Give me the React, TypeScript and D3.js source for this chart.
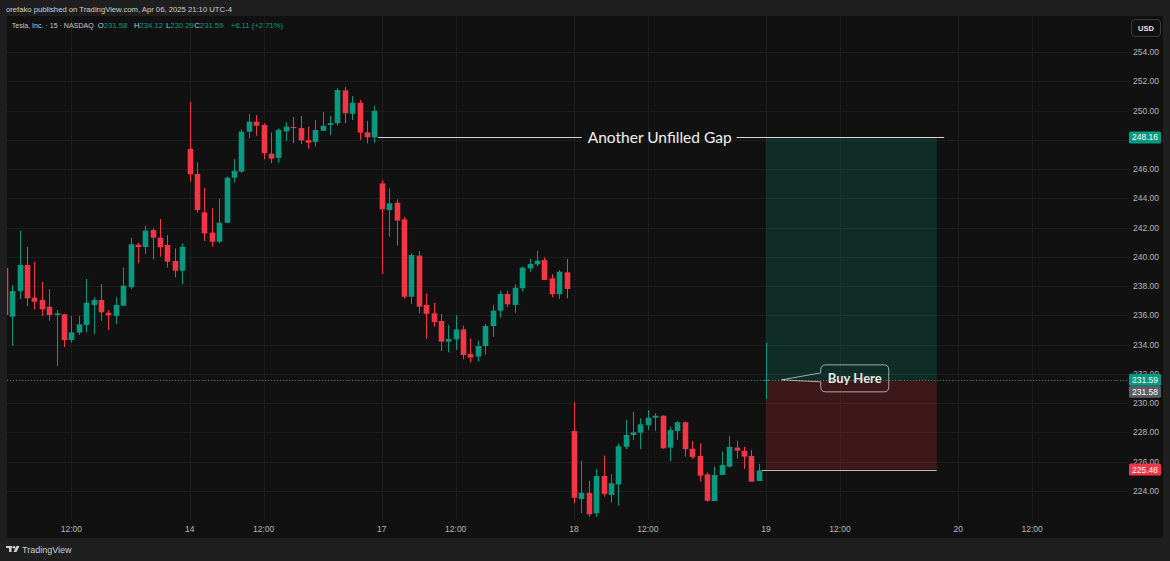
import React, { useLayoutEffect, useRef, useState } from 'react';
import * as d3 from 'd3';

// ---------- DATA ----------
// 15-minute bars; index 0 = 13 Mar 09:30, 26 bars per session
const START_INDEX = 1;
const opens = [
  239.24, 235.91, 237.66, 239.44, 237.21, 237.05, 236.59, 236.02, 236.07, 234.31,
  234.82, 235.34, 236.71, 237.05, 236.18, 235.96, 236.66, 237.92, 240.83, 240.67,
  241.83, 241.31, 240.81, 239.71, 239.05, 247.37, 245.66, 243.04, 241.65, 241.03,
  242.33, 245.41, 245.82, 248.55, 249.24, 249.01, 247.05, 246.76, 248.58, 248.87,
  248.80, 247.98, 247.85, 248.62, 249.01, 249.13, 251.38, 249.78, 250.53, 248.51,
  248.17, 245.02, 243.20, 243.70, 242.56, 237.27, 240.08, 236.71, 236.14, 235.61,
  234.20, 234.36, 235.04, 233.36, 233.18, 233.90, 235.27, 236.32, 237.46, 236.71,
  237.85, 239.21, 239.49, 239.78, 238.53, 237.44, 238.94, 228.09, 223.45, 223.87,
  222.47, 225.02, 223.72, 224.45, 227.01, 227.82, 227.98, 228.50, 229.00, 229.14,
  226.96, 228.10, 228.69, 226.87, 226.39, 225.13, 223.31, 225.09, 225.66, 226.96,
  226.75, 226.39, 224.68, 231.58,
];
const highs = [
  239.60, 238.07, 241.79, 240.69, 239.67, 238.30, 237.78, 236.36, 236.10, 235.96,
  235.96, 238.48, 237.23, 238.14, 236.36, 237.23, 239.26, 241.31, 240.97, 242.13,
  241.95, 242.59, 241.49, 240.58, 240.92, 250.60, 246.46, 244.72, 243.32, 243.95,
  245.50, 246.69, 248.72, 249.76, 249.69, 249.13, 248.51, 248.78, 249.20, 249.56,
  249.63, 248.90, 249.35, 249.90, 249.63, 251.54, 251.61, 250.99, 250.72, 249.28,
  250.31, 245.25, 244.68, 243.93, 242.74, 240.24, 240.40, 237.50, 236.86, 236.09,
  235.34, 236.02, 235.29, 234.43, 234.27, 235.41, 236.71, 237.69, 237.69, 238.12,
  239.33, 239.85, 240.40, 239.97, 238.81, 239.10, 239.85, 230.06, 226.04, 224.70,
  225.50, 226.40, 225.13, 227.25, 228.85, 229.41, 228.96, 229.53, 229.30, 229.17,
  228.39, 228.78, 228.74, 227.41, 227.25, 225.27, 225.66, 226.68, 227.75, 227.43,
  227.02, 226.80, 225.84, 234.12,
];
const lows = [
  235.70, 233.93, 237.12, 236.64, 236.41, 235.96, 235.63, 232.54, 233.82, 234.13,
  234.66, 234.84, 234.73, 235.63, 235.00, 235.41, 236.64, 237.80, 239.56, 240.19,
  239.83, 240.01, 239.26, 238.60, 238.14, 245.13, 243.02, 241.08, 240.69, 240.92,
  242.30, 245.07, 245.75, 248.10, 248.28, 246.67, 246.39, 246.43, 247.92, 247.76,
  247.71, 247.39, 247.53, 248.62, 248.33, 248.96, 249.13, 249.35, 247.98, 247.76,
  247.80, 238.83, 241.38, 240.76, 237.16, 236.78, 236.14, 234.38, 235.22, 233.56,
  233.47, 233.63, 233.00, 232.76, 232.83, 233.29, 234.54, 235.84, 236.55, 236.18,
  237.62, 238.98, 239.33, 238.42, 237.23, 237.12, 237.16, 223.15, 222.47, 222.24,
  222.24, 223.60, 223.20, 222.99, 226.85, 227.48, 226.86, 228.16, 228.10, 226.87,
  226.04, 227.48, 226.34, 226.18, 224.63, 223.26, 223.31, 225.09, 225.59, 226.22,
  225.50, 224.63, 224.68, 230.29,
];
const closes = [
  236.02, 237.66, 239.44, 237.16, 236.93, 236.41, 236.02, 236.14, 234.31, 234.84,
  235.39, 236.86, 237.05, 236.21, 236.00, 236.71, 238.03, 240.86, 240.67, 241.79,
  241.31, 240.65, 239.67, 239.05, 240.69, 245.64, 243.20, 241.60, 241.03, 242.33,
  245.41, 245.87, 248.55, 249.24, 248.96, 247.08, 246.71, 248.67, 248.90, 248.80,
  247.96, 247.80, 248.67, 248.96, 249.13, 251.40, 249.81, 250.53, 248.49, 248.17,
  249.97, 243.25, 243.66, 242.47, 237.27, 240.12, 236.59, 236.10, 235.53, 234.20,
  234.38, 235.04, 233.29, 233.11, 233.90, 235.27, 236.32, 237.46, 236.75, 237.89,
  239.26, 239.51, 239.74, 238.42, 237.44, 238.98, 237.80, 223.53, 223.87, 222.40,
  225.02, 223.79, 224.52, 227.05, 227.82, 228.00, 228.55, 229.00, 229.14, 226.91,
  228.16, 228.69, 226.85, 226.32, 225.04, 223.33, 225.09, 225.77, 227.01, 226.75,
  226.34, 224.63, 225.40, 231.59,
];

const priceTicks = [224, 226, 228, 230, 232, 234, 236, 238, 240, 242, 244, 246, 248, 250, 252, 254];
const timeTickIndex = [10, 26, 36, 52, 62, 78, 88, 104, 114, 130, 140];
const timeTickLabels = ['12:00', '14', '12:00', '17', '12:00', '18', '12:00', '19', '12:00', '20', '12:00'];

const gapPrice = 248.16;
const gapLine = [51.5, 128.1]; // bar index range
const gapLabel = 'Another Unfilled Gap';
const gapLabelIndex = 89.6;

const entryPrice = 231.59;
const lastOpenPrice = 231.58;
const stopPrice = 225.46;
const positionRange = [104, 127.1];
const stopLineRange = [103.45, 127.1];
const calloutTipIndex = 106.1;
const calloutBox = [111.4, 120.6];
const calloutText = 'Buy Here';

const headerText = 'orefako published on TradingView.com, Apr 06, 2025 21:10 UTC-4';
const legendName = 'Tesla, Inc. · 15 · NASDAQ';
const legendKeys = ['O', 'H', 'L', 'C'];
const legendValues = ['231.58', '234.12', '230.29', '231.59'];
const legendChange = '+6.11 (+2.71%)';

// ---------- STYLE ----------
const W = 1170;
const H = 561;
const UP = '#089981';
const DOWN = '#f23645';
const FRAME = '#1f1f1f';
const PANE = '#111111';
const GRID = '#1d1d1d';
const TXT = '#b6b6b6';
const FONT = '"Liberation Sans", Arial, sans-serif';

const pane = { left: 7, top: 16, right: 1163, bottom: 538 };
const plotRight = 1128;
const legendKeyX = [97.7, 134, 166, 194.3];
const legendChangeX = 230.7;

export default function App() {
  const x = d3.scaleLinear().domain([0, 153]).range([-2.48, 1128.2]);
  const y = d3.scaleLinear().domain([224, 254]).range([490.9, 52]);

  const gapTextRef = useRef<SVGTextElement>(null);
  const [gapW, setGapW] = useState(145);
  useLayoutEffect(() => {
    if (gapTextRef.current) setGapW(gapTextRef.current.getComputedTextLength());
  }, []);

  const bodyW = 5.6;
  const candles = opens.map((o, k) => {
    const i = START_INDEX + k;
    const c = closes[k];
    const up = c >= o;
    const col = up ? UP : DOWN;
    const cx = Math.round(x(i)) + 0.5;
    const yt = y(Math.max(o, c));
    const yb = y(Math.min(o, c));
    return (
      <g key={i}>
        <line x1={cx} x2={cx} y1={y(highs[k])} y2={y(lows[k])} stroke={col} strokeWidth={1} />
        <rect x={cx - bodyW / 2} y={yt} width={bodyW} height={Math.max(1, yb - yt)} fill={col} />
      </g>
    );
  });

  const gy = y(gapPrice);
  const gx = x(gapLabelIndex);
  const ey = y(entryPrice);
  const sy = y(stopPrice);
  const px0 = x(positionRange[0]);
  const px1 = x(positionRange[1]);

  // callout path
  const bx0 = x(calloutBox[0]);
  const bx1 = x(calloutBox[1]);
  const by0 = ey - 15;
  const by1 = ey + 12;
  const r = 5;
  const tipX = x(calloutTipIndex);
  const calloutPath = [
    `M${bx0 + r},${by0}`,
    `L${bx1 - r},${by0}`,
    `Q${bx1},${by0} ${bx1},${by0 + r}`,
    `L${bx1},${by1 - r}`,
    `Q${bx1},${by1} ${bx1 - r},${by1}`,
    `L${bx0 + r},${by1}`,
    `Q${bx0},${by1} ${bx0},${by1 - r}`,
    `L${bx0},${ey + 2}`,
    `L${tipX},${ey}`,
    `L${bx0},${ey - 7}`,
    `L${bx0},${by0 + r}`,
    `Q${bx0},${by0} ${bx0 + r},${by0}`,
    'Z',
  ].join(' ');

  const badgePrices = [gapPrice, entryPrice, stopPrice];
  // tick labels fully hidden behind a badge in the reference are skipped
  const visibleTicks = priceTicks.filter((p) => !badgePrices.some((b) => Math.abs(y(p) - y(b)) < 4));

  const badge = (price: number, cy: number, fill: string, key: string) => (
    <g key={key}>
      <rect x={1129} y={cy - 6} width={32} height={12} rx={1.5} fill={fill} />
      <text x={1145} y={cy + 3} fill="#ffffff" fontSize={8.5} textAnchor="middle" fontFamily={FONT}>
        {price.toFixed(2)}
      </text>
    </g>
  );

  return (
    <div style={{ position: 'absolute', left: 0, top: 0, width: W, height: H }}>
      <svg width={W} height={H} style={{ display: 'block' }}>
        <defs>
          <clipPath id="plotClip">
            <rect x={pane.left} y={pane.top} width={plotRight - pane.left} height={pane.bottom - pane.top} />
          </clipPath>
        </defs>
        <rect x={0} y={0} width={W} height={H} fill={FRAME} />
        <rect x={pane.left} y={pane.top} width={pane.right - pane.left} height={pane.bottom - pane.top} fill={PANE} />

        {/* header */}
        <text x={6} y={11.5} fill="#cfcfcf" fontSize={7.7} fontFamily={FONT}>{headerText}</text>

        {/* grid */}
        <g clipPath="url(#plotClip)">
          {priceTicks.map((p) => (
            <line key={'h' + p} x1={pane.left} x2={plotRight} y1={Math.round(y(p)) + 0.5} y2={Math.round(y(p)) + 0.5} stroke={GRID} />
          ))}
          {timeTickIndex.map((t) => (
            <line key={'v' + t} x1={Math.round(x(t)) + 0.5} x2={Math.round(x(t)) + 0.5} y1={pane.top} y2={520} stroke={GRID} />
          ))}
        </g>

        {/* legend */}
        <g fontFamily={FONT}>
          <text x={11.7} y={28} fill="#c8c8c8" fontSize={7} textLength={82} lengthAdjust="spacingAndGlyphs">{legendName}</text>
          {legendKeys.map((k, j) => (
            <text key={k} x={legendKeyX[j]} y={28} fill="#c8c8c8" fontSize={7.7}>
              {k}
              <tspan fill={UP}>{legendValues[j]}</tspan>
            </text>
          ))}
          <text x={legendChangeX} y={28} fill={UP} fontSize={7.7}>{legendChange}</text>
        </g>

        <g clipPath="url(#plotClip)">
          {/* position box */}
          <rect x={px0} y={gy} width={px1 - px0} height={ey - gy} fill={UP} fillOpacity={0.2} />
          <rect x={px0} y={ey} width={px1 - px0} height={sy - ey} fill={DOWN} fillOpacity={0.2} />

          {/* last price dotted line */}
          <line x1={pane.left} x2={plotRight} y1={Math.round(ey) + 0.5} y2={Math.round(ey) + 0.5} stroke={UP} strokeDasharray="1 2" />

          {candles}

          {/* gap line */}
          <line x1={x(gapLine[0])} x2={gx - gapW / 2 - 6} y1={Math.round(gy) + 0.5} y2={Math.round(gy) + 0.5} stroke="#d6d6d6" />
          <line x1={gx + gapW / 2 + 5} x2={x(gapLine[1])} y1={Math.round(gy) + 0.5} y2={Math.round(gy) + 0.5} stroke="#d6d6d6" />
          <text ref={gapTextRef} x={gx} y={gy + 5.5} textAnchor="middle" fill="#f0f0f0" fontSize={15.5} fontFamily="Lato, sans-serif">
            {gapLabel}
          </text>

          {/* stop line */}
          <line x1={x(stopLineRange[0])} x2={x(stopLineRange[1])} y1={Math.round(sy) + 0.5} y2={Math.round(sy) + 0.5} stroke="#bdbdbd" />

          {/* callout */}
          <path d={calloutPath} fill="none" stroke="rgba(255,255,255,0.6)" strokeWidth={1} />
          <text x={(bx0 + bx1) / 2} y={ey + 3.5} textAnchor="middle" fill="#e8e8e8" fontSize={13} fontWeight={700} fontFamily="Lato, sans-serif">
            {calloutText}
          </text>
        </g>

        {/* price axis */}
        <rect x={1131.5} y={19.5} width={29} height={17} rx={3.5} fill={PANE} stroke="#3a3a3a" />
        <text x={1146} y={31} textAnchor="middle" fill="#e6e6e6" fontSize={7.5} fontWeight={700} fontFamily={FONT}>USD</text>
        {visibleTicks.map((p) => (
          <text key={'pl' + p} x={1146} y={y(p) + 3} textAnchor="middle" fill={TXT} fontSize={8.5} fontFamily={FONT}>
            {p.toFixed(2)}
          </text>
        ))}
        {badge(gapPrice, gy, UP, 'b1')}
        {badge(entryPrice, ey, UP, 'b2')}
        {badge(lastOpenPrice, ey + 12, '#5a5d66', 'b3')}
        {badge(stopPrice, sy, DOWN, 'b4')}

        {/* time axis */}
        {timeTickIndex.map((t, k) => (
          <text key={'tl' + t} x={x(t)} y={532} textAnchor="middle" fill={TXT} fontSize={8.5} fontFamily={FONT}>
            {timeTickLabels[k]}
          </text>
        ))}

        {/* footer logo */}
        <g fill="#d0d0d0">
          <rect x={6} y={546} width={6} height={2} />
          <rect x={9} y={546} width={2.5} height={6} />
          <circle cx={14} cy={547.2} r={1.3} />
          <path d="M16.5,546 L19.5,546 L16.5,552 L13.5,552 Z" />
        </g>
        <text x={22} y={552.5} fill="#cfcfcf" fontSize={9} fontFamily={FONT}>TradingView</text>
      </svg>
    </div>
  );
}
